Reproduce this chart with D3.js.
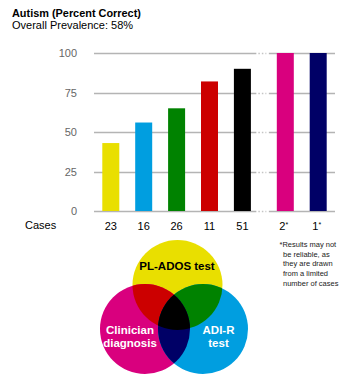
<!DOCTYPE html>
<html><head><meta charset="utf-8">
<script src="https://cdn.jsdelivr.net/npm/d3@7/dist/d3.min.js"></script>
<style>body{margin:0;background:#fff}svg{display:block;font-family:"Liberation Sans",Arial,Helvetica,sans-serif}</style>
</head><body><svg id="c" width="352" height="389"></svg>
<script>
// ---- data ----
const cases = ["23", "16", "26", "11", "51", "2", "1"];
const percentCorrect = [43, 56, 65, 82, 90, 100, 100];
const reliable = [true, true, true, true, true, false, false];
const barColors = ["#e9df00", "#009ee0", "#008200", "#cc0000", "#000000", "#d9007e", "#000066"];
const yTicks = [0, 25, 50, 75, 100];
const titleText = "Autism (Percent Correct)";
const subtitleText = "Overall Prevalence: 58%";
const casesLabel = "Cases";
const footnoteLines = ["*Results may not", "be reliable, as", "they are drawn", "from a limited", "number of cases"];
const vennLabels = [["PL-ADOS test"], ["Clinician", "diagnosis"], ["ADI-R", "test"]];
const vennColors = ["#e9df00", "#d9007e", "#009ee0"];
const vennTextColors = ["#000", "#fff", "#fff"];
// overlaps: [set a, set b, colour]
const vennPairs = [[0, 1, "#cc0000"], [0, 2, "#008200"], [1, 2, "#000066"]];
const vennTripleColor = "#000000";

// ---- layout ----
const svg = d3.select("#c");
const y = d3.scaleLinear().domain([0, 100]).range([211, 53]);
const xIdx = d3.scaleLinear().domain([0, 6]).range([110.8, 308.2]);
const gapExtra = 10;
const xc = i => xIdx(i) + (reliable[i] ? 0 : gapExtra);
const barW = 17;
const gridX0 = 94, gridX1 = 335;

// title
svg.append("text").attr("x", 12).attr("y", 16.8).attr("font-size", 10.9).attr("font-weight", "bold").text(titleText);
svg.append("text").attr("x", 12).attr("y", 28.5).attr("font-size", 11).text(subtitleText);

// gridlines with break
const lastRel = reliable.lastIndexOf(true);
const breakMid = (xc(lastRel) + xc(lastRel + 1)) / 2 - 1.5;
const grid = svg.append("g");
yTicks.forEach(t => {
  const yy = Math.round(y(t)) + 0.5;
  grid.append("line").attr("x1", gridX0).attr("x2", breakMid - 6).attr("y1", yy).attr("y2", yy)
    .attr("stroke", "#b4b4b4").attr("stroke-width", 1.4);
  grid.append("line").attr("x1", breakMid - 4).attr("x2", breakMid + 4).attr("y1", yy).attr("y2", yy)
    .attr("stroke", "#c4c4c4").attr("stroke-width", 1.4).attr("stroke-dasharray", "1.5,2");
  grid.append("line").attr("x1", breakMid + 6.5).attr("x2", gridX1).attr("y1", yy).attr("y2", yy)
    .attr("stroke", "#b4b4b4").attr("stroke-width", 1.4);
});

// y tick labels
const yAxis = d3.axisLeft(y).tickValues(yTicks).tickSize(0).tickPadding(0);
const yg = svg.append("g").attr("transform", "translate(77,0)").call(yAxis);
yg.select(".domain").remove();
yg.selectAll("text").attr("font-size", 11).attr("fill", "#666").attr("font-family", null).attr("dy", "0.36em");

// bars
svg.append("g").selectAll("rect").data(percentCorrect).join("rect")
  .attr("x", (d, i) => xc(i) - barW / 2)
  .attr("y", d => y(d))
  .attr("width", barW)
  .attr("height", d => y(0) - y(d))
  .attr("fill", (d, i) => barColors[i]);

// case labels
svg.append("text").attr("x", 25).attr("y", 229).attr("font-size", 11).text(casesLabel);
const cl = svg.append("g").selectAll("text").data(cases).join("text")
  .attr("x", (d, i) => xc(i) - (reliable[i] ? 0 : 1.5))
  .attr("y", 229.5).attr("font-size", 11).attr("text-anchor", "middle");
cl.append("tspan").text(d => d);
cl.filter((d, i) => !reliable[i]).append("tspan").attr("font-size", 7).attr("dy", -3).text("*");

// footnote
svg.append("g").selectAll("text").data(footnoteLines).join("text")
  .attr("x", (d, i) => i === 0 ? 279.5 : 283)
  .attr("y", (d, i) => 246.7 + i * 9.8)
  .attr("font-size", 7.5).attr("fill", "#222").text(d => d);

// venn
const r = 45;
const centers = [[177.5, 285], [145, 329], [203, 329]];
const defs = svg.append("defs");
centers.forEach((c, i) => {
  defs.append("clipPath").attr("id", "clip" + i)
    .append("circle").attr("cx", c[0]).attr("cy", c[1]).attr("r", r);
});
const vg = svg.append("g");
vg.selectAll("circle.set").data(centers).join("circle").attr("class", "set")
  .attr("cx", d => d[0]).attr("cy", d => d[1]).attr("r", r)
  .attr("fill", (d, i) => vennColors[i]);
vennPairs.forEach(([a, b, col]) => {
  vg.append("g").attr("clip-path", `url(#clip${b})`)
    .append("circle").attr("cx", centers[a][0]).attr("cy", centers[a][1]).attr("r", r).attr("fill", col);
});
vg.append("g").attr("clip-path", "url(#clip2)")
  .append("g").attr("clip-path", "url(#clip1)")
  .append("circle").attr("cx", centers[0][0]).attr("cy", centers[0][1]).attr("r", r).attr("fill", vennTripleColor);

const labelPos = [[177, 270], [130, 333.5], [218.5, 333.5]];
vennLabels.forEach((lines, i) => {
  const t = vg.append("text").attr("x", labelPos[i][0]).attr("y", labelPos[i][1])
    .attr("font-size", 11.5).attr("font-weight", "bold").attr("text-anchor", "middle")
    .attr("fill", vennTextColors[i]);
  lines.forEach((ln, j) => t.append("tspan").attr("x", labelPos[i][0]).attr("dy", j === 0 ? 0 : 13).text(ln));
});
</script>
</body></html>
